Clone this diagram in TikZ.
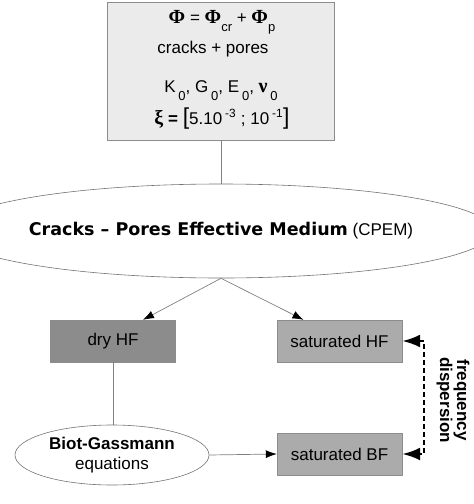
\documentclass[tikz,border=0pt]{standalone}
\usepackage{fontspec}
\setmainfont{Liberation Sans}
\newfontfamily\vfont{DejaVu Sans}
\newfontfamily\gfont{Liberation Serif}
\newcommand\gk[1]{{\gfont\bfseries\fontsize{20}{20}\selectfont #1}}
\newcommand\lowsub[1]{\raisebox{-8pt}{\fontsize{13}{13}\selectfont #1}}
\newcommand\tallbr[1]{{\fontsize{23}{23}\selectfont #1}}
\usetikzlibrary{shapes.geometric,arrows.meta}

\begin{document}
\begin{tikzpicture}[x=1pt,y=-1pt,
  every node/.style={inner sep=0pt,font=\fontsize{17}{20}\selectfont},
  box/.style={draw=black!45,minimum width=125pt,minimum height=42pt},
  oval/.style={ellipse,draw=black!55,line width=0.6pt},
  link/.style={draw=black!50,line width=0.7pt},
  flow/.style={link,-{Latex[black,length=11pt,width=8pt]}},
  dispersion/.style={black,line width=2.6pt,dash pattern=on 5pt off 3pt,
    {Latex[length=18pt,width=13pt]}-{Latex[length=18pt,width=13pt]}}]
\useasboundingbox (0,0) rectangle (474,504);
\node (top) [draw=black!45,fill=black!8,minimum width=227pt,minimum height=138pt] at (221,71) {};
\node (phi) [anchor=base] at (222,23) {\gk{Φ} = \gk{Φ}\lowsub{cr} + \gk{Φ}\lowsub{p}};
\node (cp) [anchor=base] at (213,53) {cracks + pores};
\node (moduli) [anchor=base] at (221,92)
  {K\,\lowsub{0}, G\,\lowsub{0}, E\,\lowsub{0}, \gk{ν}\,\lowsub{0}};
\node (xi) [anchor=base] at (222,124)
  {\gk{ξ} \textbf{=} \tallbr{[}5.10\,\textsuperscript{-3} ; 10\,\textsuperscript{-1}\tallbr{]}};
\node (cpem) [oval,minimum width=436pt,minimum height=94pt] at (221,231)
  {{\vfont\bfseries\fontsize{17.5}{20}\selectfont Cracks – Pores Effective Medium} (CPEM)};
\node (dry) [box,fill=black!45] at (113,341) {dry HF};
\node (sathf) [box,fill=black!33] at (339.5,341) {saturated HF};
\node (satbf) [box,fill=black!33] at (339.5,454) {saturated BF};
\node (biot) [oval,minimum width=194pt,minimum height=60pt,align=center] at (112,455)
  {\textbf{Biot-Gassmann}\\equations};
\node (freq) [rotate=-90,align=center,font=\fontsize{17}{17}\selectfont\bfseries] at (453,400)
  {frequency\\dispersion};
\coordinate (dtop) at (424,341);
\coordinate (dbot) at (424,454);
\draw[link] (top.south) -- (cpem.north);
\draw[flow] (cpem.south) -- ([xshift=30pt]dry.north);
\draw[flow] (cpem.south) -- ([xshift=-36pt]sathf.north);
\draw[link] (dry.south) -- (dry.south |- biot.north);
\draw[flow] (biot.east) -- (satbf.west);
\draw[dispersion] (sathf.east) -- (dtop) -- (dbot) -- (satbf.east);
\end{tikzpicture}
\end{document}
